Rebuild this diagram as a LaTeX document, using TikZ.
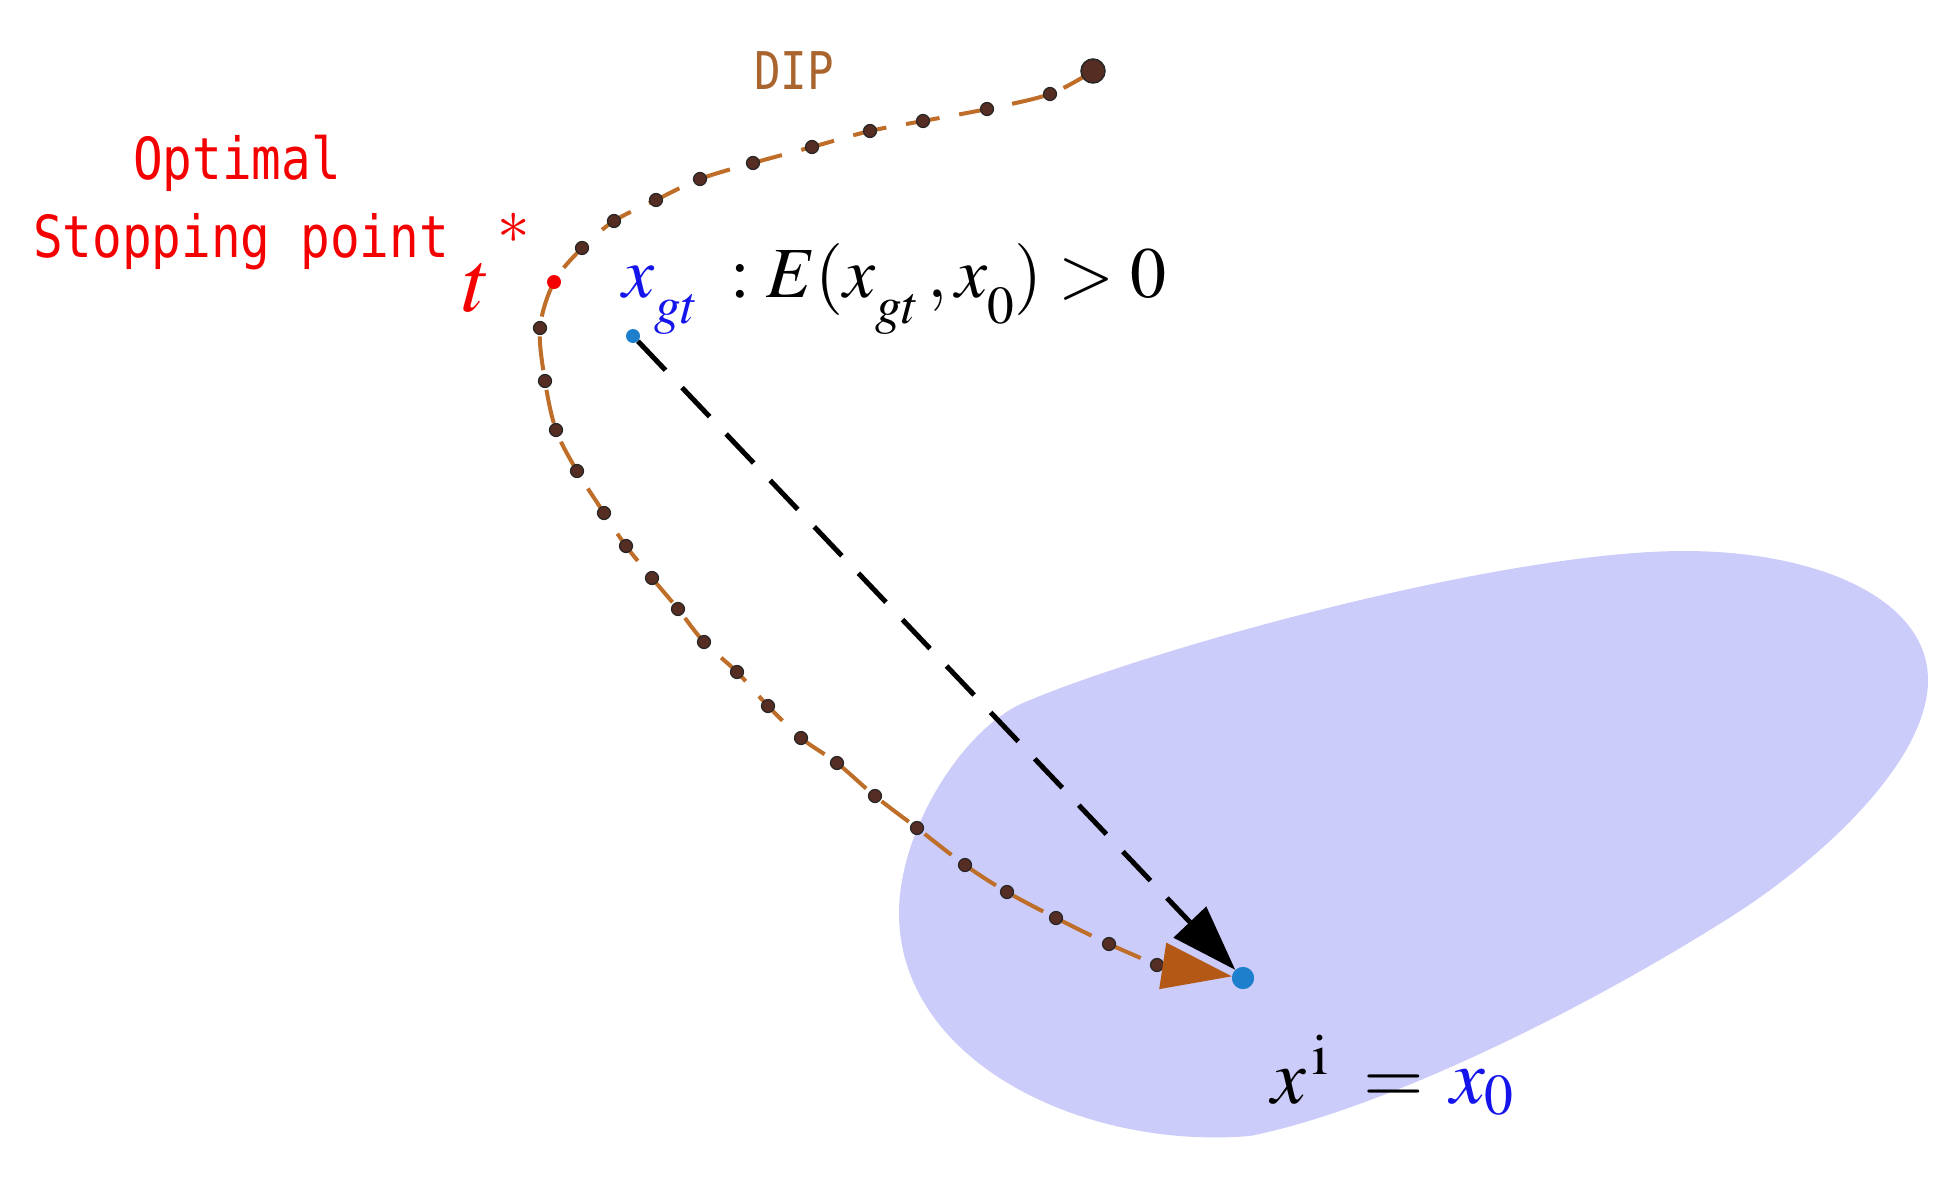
\documentclass[tikz,border=0pt]{standalone}
\usepackage{mathptmx}
\usepackage{fontspec}
\setmainfont{Liberation Serif}
\newfontfamily\labelmono[FakeStretch=0.85]{DejaVu Sans Mono}
\usetikzlibrary{arrows.meta}
\definecolor{curvecol}{RGB}{190,110,40}
\definecolor{dotcol}{RGB}{85,45,35}
\definecolor{arrowbrown}{RGB}{180,88,22}
\definecolor{blobcol}{RGB}{204,204,250}
\definecolor{dipcol}{RGB}{170,100,45}
\definecolor{ptblue}{RGB}{30,128,205}
\definecolor{txtred}{RGB}{245,0,0}
\definecolor{txtblue}{RGB}{20,20,235}
\newcommand{\lowsub}[1]{_{\raisebox{-0.22em}{$\scriptstyle #1$}}}
\begin{document}
\begin{tikzpicture}[x=1pt,y=-1pt,
  traj/.style={draw=curvecol, line width=4pt, dash pattern=on 34pt off 20pt},
  tdot/.style={circle, fill=dotcol, draw=black!85, line width=1.2pt, inner sep=0pt, minimum size=13pt},
  bigdot/.style={circle, fill=dotcol, draw=black!85, line width=1.5pt, inner sep=0pt, minimum size=24pt},
  bluedot/.style={circle, fill=ptblue, inner sep=0pt},
  reddot/.style={circle, fill=txtred, inner sep=0pt, minimum size=14pt},
  monolabel/.style={font=\labelmono\fontsize{#1}{#1}\selectfont, inner sep=0pt, anchor=base},
  mathlabel/.style={font=\fontsize{#1}{#1}\selectfont, inner sep=0pt, anchor=base west}]
\useasboundingbox (0,0) rectangle (1960,1189);

% region x^i
\fill[blobcol] (899,913)
  .. controls (899,830) and (963,729) .. (1023,703)
  .. controls (1143,651) and (1500,551) .. (1684,551)
  .. controls (1820,551) and (1928,600) .. (1928,680)
  .. controls (1928,760) and (1824,858) .. (1729,918)
  .. controls (1579,1013) and (1380,1110) .. (1250,1136)
  .. controls (1080,1150) and (899,1060) .. cycle;

% trajectory points
\coordinate (c0) at (1093,71);
\coordinate (ct) at (554,282);
\foreach \px/\py [count=\i] in {1050/94,987/109,923/121,870/131,812/147,753/163,
  700/179,656/200,614/221,582/248,540/328,545/381,556/430,577/471,
  604/513,626/546,652/578,678/609,704/642,737/672,768/706,801/738,
  837/763,875/796,917/828,965/865,1007/892,1056/918,1109/944,1157/965}
  \coordinate (c\i) at (\px,\py);

\draw[traj] plot[smooth, tension=0.55] coordinates {(c0) (c1) (c2) (c3) (c4) (c5) (c6) (c7)
  (c8) (c9) (c10) (ct) (c11) (c12) (c13) (c14) (c15) (c16) (c17) (c18) (c19) (c20) (c21)
  (c22) (c23) (c24) (c25) (c26) (c27) (c28) (c29) (c30)};

% nodes
\node[bluedot, minimum size=22pt] (x0) at (1243,978) {};
\node[bluedot, minimum size=14pt] (xgt) at (633,336) {};
\node[bigdot] (p0) at (c0) {};
\node[reddot] (tstar) at (ct) {};
\foreach \i in {1,...,30} \node[tdot] (d\i) at (c\i) {};

% connectors
\draw[curvecol, line width=4pt, -{Triangle[length=70pt,width=46pt,color=arrowbrown]}] (d30) -- (x0);
\draw[black, line width=5pt, dash pattern=on 40pt off 24pt, -{Triangle[length=66pt,width=44pt]}] (xgt) -- (x0);
\node[bluedot, minimum size=22pt] at (x0) {};

% texts
\node[monolabel=52, text=dipcol] (dip) at (794,89) {DIP};
\node[monolabel=58, text=txtred] (opt1) at (237,179) {Optimal};
\node[monolabel=58, text=txtred] (opt2) at (241,257) {Stopping point};
\node[mathlabel=88, text=txtred] (tlab) at (462,311) {$t^{\,\raisebox{0.4em}{$\scriptstyle *$}}$};
\node[mathlabel=72] (form) at (622,297) {${\color{txtblue}x\lowsub{gt}}\;:E(x\lowsub{gt}\,,x\lowsub{0})>0$};
\node[mathlabel=78] (xeq) at (1271,1103) {$x^{\,\mathrm{i}}\;=\,{\color{txtblue}x_0}$};
\end{tikzpicture}
\end{document}
